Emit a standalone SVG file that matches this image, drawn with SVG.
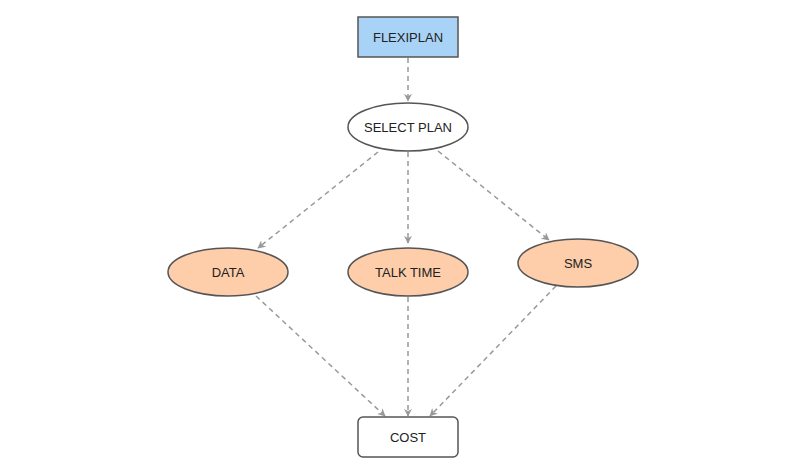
<svg xmlns="http://www.w3.org/2000/svg" width="800" height="469" viewBox="0 0 800 469">
<style>
.n{stroke:#555;stroke-width:1.5}
.t{font-family:"Liberation Sans",sans-serif;font-size:13px;fill:#222;text-anchor:middle;dominant-baseline:central}
.e{stroke:#999;stroke-width:1.5;stroke-dasharray:5,4;fill:none;marker-end:url(#a)}
</style>
<defs><marker id="a" viewBox="0 0 10 10" refX="9" refY="5" markerWidth="8" markerHeight="8" orient="auto" markerUnits="userSpaceOnUse"><path d="M0,0L10,5L0,10L3,5z" fill="#999"/></marker></defs>
<rect width="800" height="469" fill="#fff"/>
<g id="edges">
<line class="e" x1="408" y1="58" x2="408" y2="101"/>
<line class="e" x1="378" y1="152" x2="258" y2="248"/>
<line class="e" x1="408" y1="152" x2="408" y2="243"/>
<line class="e" x1="438" y1="151" x2="549" y2="240"/>
<line class="e" x1="256" y1="296" x2="385" y2="416"/>
<line class="e" x1="408" y1="297" x2="408" y2="416"/>
<line class="e" x1="556" y1="286" x2="430" y2="416"/>
</g>
<g id="flexiplan"><rect class="n" x="358" y="17" width="100" height="40" fill="#a9d3f6"/><text class="t" x="408" y="37">FLEXIPLAN</text></g>
<g id="select"><ellipse class="n" cx="408" cy="127" rx="60" ry="24" fill="#fff"/><text class="t" x="408" y="127">SELECT PLAN</text></g>
<g id="data"><ellipse class="n" cx="228" cy="272" rx="60" ry="24" fill="#fecda9"/><text class="t" x="228" y="272">DATA</text></g>
<g id="talk"><ellipse class="n" cx="408" cy="272" rx="60" ry="24" fill="#fecda9"/><text class="t" x="408" y="272">TALK TIME</text></g>
<g id="sms"><ellipse class="n" cx="578" cy="263" rx="60" ry="24" fill="#fecda9"/><text class="t" x="578" y="263">SMS</text></g>
<g id="cost"><rect class="n" x="358" y="417" width="100" height="40" rx="5" fill="#fff"/><text class="t" x="408" y="437">COST</text></g>
</svg>
